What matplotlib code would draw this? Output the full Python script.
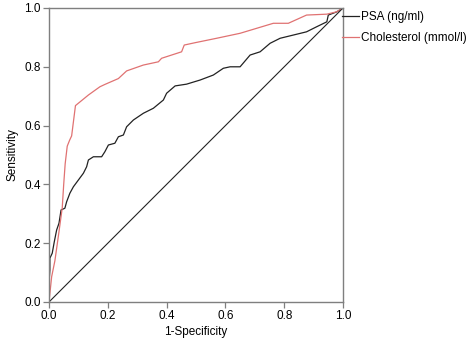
import matplotlib
matplotlib.use("Agg")
import matplotlib.pyplot as plt

plt.rcParams['font.family'] = ['Liberation Sans', 'DejaVu Sans']

# ROC points (1-specificity, sensitivity)
psa_fpr = [0.0, 0.0, 0.003, 0.003, 0.011, 0.018, 0.026, 0.034, 0.041, 0.054,
           0.060, 0.071, 0.083, 0.100, 0.117, 0.128, 0.134, 0.151, 0.179, 0.190,
           0.202, 0.224, 0.236, 0.253, 0.264, 0.287, 0.321, 0.355, 0.389, 0.400,
           0.429, 0.468, 0.514, 0.559, 0.593, 0.616, 0.650, 0.684, 0.718, 0.752,
           0.786, 0.831, 0.876, 0.910, 0.945, 0.950, 0.979, 1.0]
psa_tpr = [0.0, 0.064, 0.109, 0.149, 0.166, 0.205, 0.245, 0.268, 0.313, 0.319,
           0.341, 0.370, 0.392, 0.415, 0.438, 0.460, 0.483, 0.494, 0.494, 0.511,
           0.534, 0.540, 0.562, 0.568, 0.596, 0.619, 0.642, 0.659, 0.687, 0.710,
           0.735, 0.741, 0.755, 0.772, 0.795, 0.800, 0.800, 0.840, 0.851, 0.880,
           0.897, 0.908, 0.919, 0.936, 0.953, 0.976, 0.987, 1.0]

chol_fpr = [0.0, 0.009, 0.020, 0.032, 0.045, 0.050, 0.055, 0.062, 0.070, 0.077,
            0.090, 0.134, 0.173, 0.190, 0.236, 0.264, 0.321, 0.372, 0.383, 0.451,
            0.460, 0.497, 0.570, 0.650, 0.763, 0.814, 0.876, 0.945, 0.978, 1.0]
chol_tpr = [0.0, 0.086, 0.140, 0.225, 0.320, 0.400, 0.470, 0.530, 0.550, 0.565,
            0.668, 0.704, 0.732, 0.740, 0.760, 0.786, 0.806, 0.817, 0.829, 0.851,
            0.874, 0.882, 0.897, 0.914, 0.948, 0.948, 0.976, 0.979, 0.987, 1.0]

ticks = [0.0, 0.2, 0.4, 0.6, 0.8, 1.0]

fig = plt.figure(figsize=(4.74, 3.44), dpi=100)
ax = fig.add_axes([49 / 474, 42 / 344, 294 / 474, 294 / 344])

ax.plot(psa_fpr, psa_tpr, color='#222222', lw=0.9, label='PSA (ng/ml)')
ax.plot(chol_fpr, chol_tpr, color='#e07272', lw=0.9, label='Cholesterol (mmol/l)')
ax.plot([0, 1], [0, 1], color='#222222', lw=0.8)

ax.set_xlim(0, 1)
ax.set_ylim(0, 1)
ax.set_xticks(ticks)
ax.set_yticks(ticks)
ax.set_xticklabels(['%.1f' % t for t in ticks], fontsize=8.5)
ax.set_yticklabels(['%.1f' % t for t in ticks], fontsize=8.5)
ax.tick_params(direction='out', length=4, width=0.9, color='#7f7f7f', pad=2)
for s in ax.spines.values():
    s.set_color('#7f7f7f')
    s.set_linewidth(1.0)

ax.set_xlabel('1-Specificity', fontsize=8.5, labelpad=3)
ax.set_ylabel('Sensitivity', fontsize=8.5, labelpad=4)

ax.legend(loc='upper left', bbox_to_anchor=(0.995, 0.99), frameon=False,
          fontsize=8.5, handlelength=1.5, handletextpad=0.15,
          labelspacing=0.75, borderaxespad=0, borderpad=0)

fig.savefig('out.png', dpi=100)
